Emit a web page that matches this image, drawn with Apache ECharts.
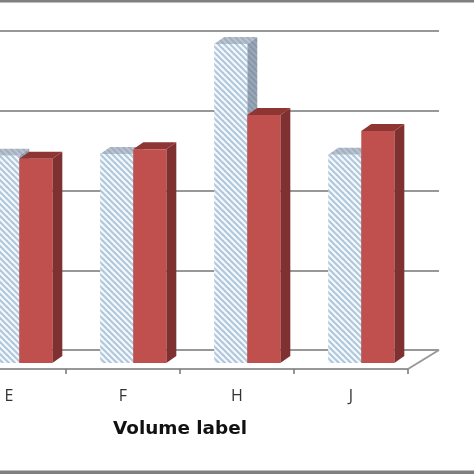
<!DOCTYPE html>
<html>
<head>
<meta charset="utf-8">
<style>
  html, body { margin: 0; padding: 0; background: #fff; overflow: hidden; width: 474px; height: 474px; }
  /* E's band runs off the left of the picture, so the canvas starts left of the window */
  #chart { position: absolute; left: -60px; top: 0; width: 534px; height: 474px; }
</style>
<script src="https://cdn.jsdelivr.net/npm/echarts@6/dist/echarts.min.js"></script>
</head>
<body>
<div id="chart"></div>
<script>
const categories = ['E', 'F', 'H', 'J']
const hatchedValues = [2.6, 2.62, 4.0, 2.61]
const redValues = [2.56, 2.68, 3.11, 2.91]
const axisName = 'Volume label'

const DEPTH_X = 10
const DEPTH_Y = 7
const LINE_GREY = '#989898'

// Diagonal stripes for the light series
const makeHatch = (stripe, paper) => {
  const size = 6
  const c = document.createElement('canvas')
  c.width = size
  c.height = size
  const ctx = c.getContext('2d')
  ctx.fillStyle = paper
  ctx.fillRect(0, 0, size, size)
  ctx.strokeStyle = stripe
  ctx.lineWidth = 2.2
  for (let i = -size; i <= size; i += size) {
    ctx.beginPath()
    ctx.moveTo(i - 1, -1)
    ctx.lineTo(i + size + 1, size + 1)
    ctx.stroke()
  }
  return { image: c, repeat: 'repeat' }
}

// Bar with a top and side face, offset is a fraction of the category band
const bar3d = (offset, front, top, side) => (params, api) => {
  const band = api.size([1, 0])[0]
  const w = band * 0.29
  const p = api.coord([api.value(0), api.value(1)])
  const base = api.coord([api.value(0), 0])
  const x0 = p[0] + band * offset
  const x1 = x0 + w
  const y0 = p[1]
  const y1 = base[1]
  const poly = (points, fill) => ({ type: 'polygon', shape: { points }, style: { fill } })
  return {
    type: 'group',
    children: [
      poly([[x1, y0], [x1 + DEPTH_X, y0 - DEPTH_Y], [x1 + DEPTH_X, y1 - DEPTH_Y], [x1, y1]], side),
      poly([[x0, y0], [x0 + DEPTH_X, y0 - DEPTH_Y], [x1 + DEPTH_X, y0 - DEPTH_Y], [x1, y0]], top),
      poly([[x0, y0], [x1, y0], [x1, y1], [x0, y1]], front)
    ]
  }
}

const chart = echarts.init(document.getElementById('chart'), null, { renderer: 'canvas' })

chart.setOption({
  animation: false,
  backgroundColor: '#ffffff',
  grid: [
    // back wall
    { left: 43, width: 456, top: 31, height: 319 },
    // plane the bars stand on
    { left: 12, width: 456, top: 44, height: 319 }
  ],
  xAxis: [
    { type: 'value', gridIndex: 0, show: false, min: 0, max: 1 },
    {
      type: 'category',
      gridIndex: 1,
      data: categories,
      offset: 6,
      axisLine: { show: true, onZero: false, lineStyle: { color: LINE_GREY, width: 2 } },
      axisTick: { show: true, alignWithLabel: false, length: 5, lineStyle: { color: '#777', width: 1.5 } },
      axisLabel: {
        color: '#333',
        fontFamily: 'Open Sans',
        fontSize: 16,
        margin: 19,
        interval: 0
      },
      name: axisName,
      nameLocation: 'middle',
      nameGap: 51,
      nameTextStyle: {
        color: '#111',
        fontFamily: 'DejaVu Sans',
        fontWeight: 'bold',
        fontSize: 18.4
      }
    }
  ],
  yAxis: [
    {
      type: 'value',
      gridIndex: 0,
      min: 0,
      max: 4,
      interval: 1,
      axisLine: { show: false },
      axisTick: { show: false },
      axisLabel: { show: false },
      splitLine: { show: true, lineStyle: { color: LINE_GREY, width: 2 } }
    },
    { type: 'value', gridIndex: 1, min: 0, max: 4, show: false, splitLine: { show: false } }
  ],
  series: [
    {
      type: 'custom',
      xAxisIndex: 1,
      yAxisIndex: 1,
      clip: false,
      data: categories.map((c, i) => [i, hatchedValues[i]]),
      renderItem: bar3d(-0.2, makeHatch('#b0c8dc', '#f6fafc'), makeHatch('#a2afbf', '#b8c4d0'), makeHatch('#8796a8', '#9aa8b8')),
      z: 2
    },
    {
      type: 'custom',
      xAxisIndex: 1,
      yAxisIndex: 1,
      clip: false,
      data: categories.map((c, i) => [i, redValues[i]]),
      renderItem: bar3d(0.09, '#c0504d', '#8f3634', '#7f3030'),
      z: 3
    }
  ],
  graphic: [
    // floor edge at the right
    { type: 'line', shape: { x1: 468, y1: 369, x2: 499, y2: 350 }, style: { stroke: LINE_GREY, lineWidth: 2 }, z: 1 },
    // picture frame
    { type: 'rect', shape: { x: 0, y: 0, width: 534, height: 2.5 }, style: { fill: '#7f7f7f' } },
    { type: 'rect', shape: { x: 0, y: 470.5, width: 534, height: 3.5 }, style: { fill: '#7f7f7f' } }
  ]
})
</script>
</body>
</html>
